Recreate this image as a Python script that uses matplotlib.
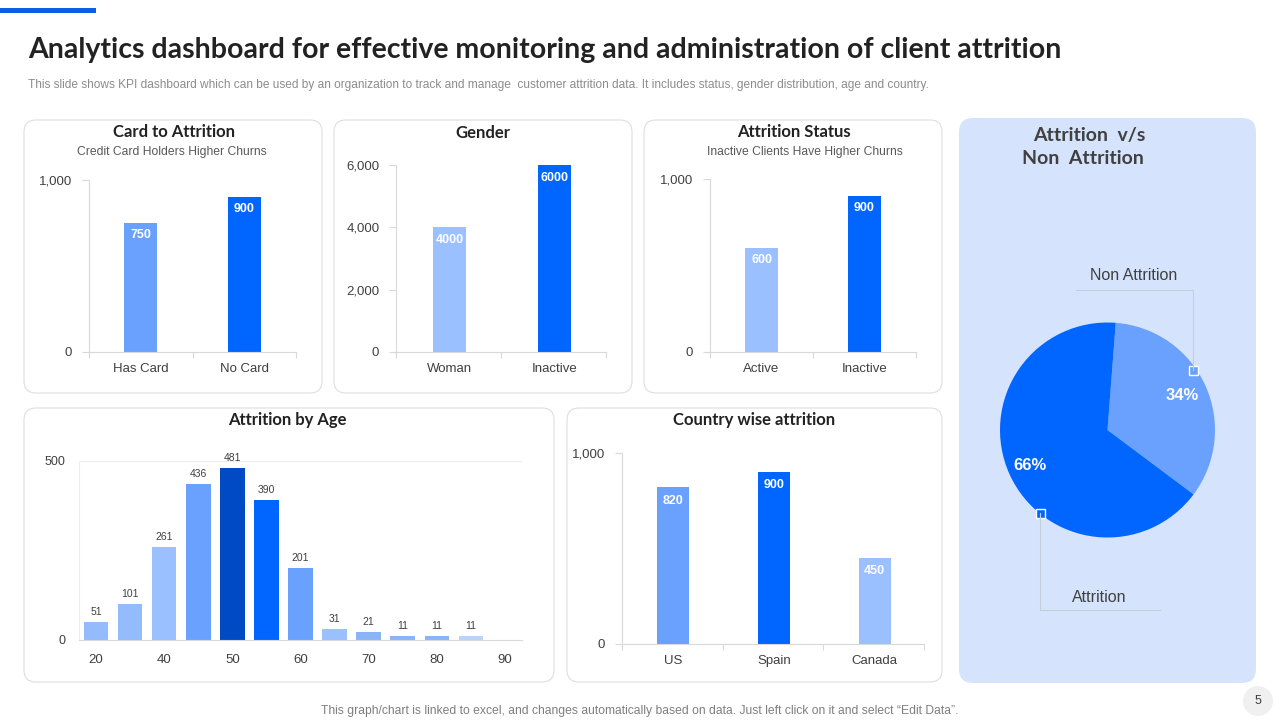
# Client attrition KPI dashboard slide
import matplotlib
matplotlib.use('Agg')
import matplotlib.pyplot as plt
from matplotlib.patches import FancyBboxPatch, Rectangle, Circle

plt.rcParams['font.family'] = ['Liberation Sans', 'DejaVu Sans']

W, H = 1280, 720

# Data
card_labels = ['Has Card', 'No Card']
card_values = [750, 900]
gender_labels = ['Woman', 'Inactive']
gender_values = [4000, 6000]
status_labels = ['Active', 'Inactive']
status_values = [600, 900]
age_ticks = ['20', '', '40', '', '50', '', '60', '', '70', '', '80', '', '90']
age_values = [51, 101, 261, 436, 481, 390, 201, 31, 21, 11, 11, 11, 0]
country_labels = ['US', 'Spain', 'Canada']
country_values = [820, 900, 450]
pie_labels = ['Non Attrition', 'Attrition']
pie_values = [34, 66]

# Colours
BLUE = '#0066FF'
MID = '#6AA1FF'
LIGHT = '#9BC0FF'
age_colors = ['#94BBFB', '#94BBFB', LIGHT, MID, '#004BC4', BLUE, MID, LIGHT,
              '#8AB4F8', '#8AB4F8', '#8AB4F8', '#BDD3F5', '#BDD3F5']
GREY = '#D9D9D9'
TEXT = '#404040'
HEAD = ['Lato', 'DejaVu Sans']

fig = plt.figure(figsize=(12.8, 7.2), dpi=100, facecolor='white')

# Full-slide layer in pixel coordinates
bg = fig.add_axes([0, 0, 1, 1])
bg.set_xlim(0, W)
bg.set_ylim(H, 0)
bg.axis('off')


def card(x0, y0, x1, y1, fc='white', ec='#DEDEDE', r=12):
    bg.add_patch(FancyBboxPatch((x0 + r, y0 + r), x1 - x0 - 2 * r, y1 - y0 - 2 * r,
                                boxstyle='round,pad=%d,rounding_size=%d' % (r, r),
                                fc=fc, ec=ec, lw=0.8))


def px_axes(x0, y_top, x1, y_bottom):
    ax = fig.add_axes([x0 / W, 1 - y_bottom / H, (x1 - x0) / W, (y_bottom - y_top) / H])
    ax.patch.set_alpha(0)
    for s in ['top', 'right']:
        ax.spines[s].set_visible(False)
    for s in ['left', 'bottom']:
        ax.spines[s].set_color(GREY)
        ax.spines[s].set_linewidth(0.8)
    return ax


def bar_panel(box, labels, values, colors, ymax, yticks, width_px, shift_px=0):
    x0, y_top, x1, y_bottom = box
    ax = px_axes(x0, y_top, x1, y_bottom)
    n = len(labels)
    step = (x1 - x0) / n
    ax.set_xlim(-0.5 - shift_px / step, n - 0.5 - shift_px / step)
    ax.set_ylim(0, ymax)
    ax.bar(range(n), values, width=width_px / step, color=colors)
    for i, v in enumerate(values):
        ax.text(i, v - ymax * 0.07, str(v), color='white', ha='center', va='center',
                fontsize=9, fontweight='bold')
    ax.set_yticks(yticks)
    ax.set_yticklabels(['{:,}'.format(t) for t in yticks], fontsize=9.5, color=TEXT)
    # x ticks sit on the category boundaries, labels in the middle
    ax.set_xticks([i - 0.5 - shift_px / step for i in range(n + 1)])
    ax.set_xticklabels([])
    ax.set_xticks(range(n), labels=labels, minor=True, fontsize=9.5, color=TEXT)
    ax.tick_params(axis='x', which='minor', length=0, pad=8)
    ax.tick_params(axis='x', which='major', length=4, color=GREY, width=0.8)
    ax.tick_params(axis='y', length=5, color=GREY, width=0.8, pad=7)
    return ax


# Top accent bar
bg.add_patch(Rectangle((0, 8), 96, 5, fc='#0B5FE0', ec='none'))

# Header
bg.text(28, 50, 'Analytics dashboard for effective monitoring and administration of client attrition',
        fontsize=20.5, fontweight='bold', color='#222222', ha='left', va='center', family=HEAD)
bg.text(28, 85, 'This slide shows KPI dashboard which can be used by an organization to track and manage  '
        'customer attrition data. It includes status, gender distribution, age and country.',
        fontsize=8.6, color='#8C8C8C', ha='left', va='center')

# Cards
card(24, 120, 322, 393)
card(334, 120, 632, 393)
card(644, 120, 942, 393)
card(24, 408, 554, 682)
card(567, 408, 942, 682)
card(959, 118, 1256, 683, fc='#D5E4FC', ec='none', r=14)

# Panel titles
for x, y, s in [(174, 132, 'Card to Attrition'), (483, 133, 'Gender'), (794, 132, 'Attrition Status'),
                (287, 420, 'Attrition by Age'), (754, 420, 'Country wise attrition')]:
    bg.text(x, y, s, fontsize=12, fontweight='bold', color='#222222', ha='center', va='center', family=HEAD)
bg.text(172, 152, 'Credit Card Holders Higher Churns', fontsize=8.7, color='#595959', ha='center', va='center')
bg.text(805, 152, 'Inactive Clients Have Higher Churns', fontsize=8.7, color='#595959', ha='center', va='center')

# Bar panels
bar_panel((89, 180, 296, 352), card_labels, card_values, [MID, BLUE], 1000, [0, 1000], 33)
bar_panel((396, 165, 606, 352), gender_labels, gender_values, [LIGHT, BLUE], 6000,
          [0, 2000, 4000, 6000], 33, shift_px=1)
bar_panel((710, 179, 916, 352), status_labels, status_values, [LIGHT, BLUE], 1000, [0, 1000], 33)
bar_panel((622, 453, 924, 644), country_labels, country_values, [MID, BLUE, LIGHT], 1000, [0, 1000], 32,
          shift_px=1)

# Age histogram
ax = px_axes(79, 461, 522, 640)
ax.set_xlim(-0.5, len(age_values) - 0.5)
ax.set_ylim(0, 500)
ax.bar(range(len(age_values)), age_values, width=0.72, color=age_colors)
for i, v in enumerate(age_values):
    if v > 0:
        ax.text(i, v + 14, str(v), fontsize=7.5, color=TEXT, ha='center', va='bottom')
ax.axhline(500, color='#EEEEEE', lw=0.8)
ax.spines['left'].set_color('#EEEEEE')
ax.set_yticks([0, 500])
ax.set_yticklabels(['0', '500'], fontsize=9, color=TEXT)
ax.set_xticks(range(len(age_values)))
ax.set_xticklabels(age_ticks, fontsize=9.5, color=TEXT)
ax.tick_params(axis='both', length=0)
ax.tick_params(axis='x', pad=10)
ax.tick_params(axis='y', pad=10)

# Pie panel
bg.text(1089, 136, 'Attrition  v/s', fontsize=14, fontweight='bold', color=TEXT, ha='center', va='center', family=HEAD)
bg.text(1083, 159, 'Non  Attrition', fontsize=14, fontweight='bold', color=TEXT, ha='center', va='center', family=HEAD)

pie_ax = fig.add_axes([(1107.5 - 107.5) / W, 1 - (430 + 107.5) / H, 215 / W, 215 / H])
pie_ax.pie(pie_values, colors=[MID, BLUE], startangle=85.6, counterclock=False, radius=1.0)
pie_ax.set_xlim(-1, 1)
pie_ax.set_ylim(-1, 1)

# Callouts go on a top layer so they sit over the pie
top = fig.add_axes([0, 0, 1, 1])
top.set_xlim(0, W)
top.set_ylim(H, 0)
top.axis('off')
top.patch.set_alpha(0)
top.plot([1076, 1193, 1193], [290, 290, 370], color='#C4CDDA', lw=0.8)
top.plot([1040, 1040, 1160], [513, 610, 610], color='#C4CDDA', lw=0.8)
top.add_patch(Rectangle((1189, 366), 9, 9, fc=MID, ec='white', lw=1))
top.add_patch(Rectangle((1036, 509), 9, 9, fc=BLUE, ec='white', lw=1))
top.text(1134, 276, pie_labels[0], fontsize=11.5, color=TEXT, ha='center', va='center')
top.text(1099, 597, pie_labels[1], fontsize=11.5, color=TEXT, ha='center', va='center')
top.text(1182, 395, '%d%%' % pie_values[0], fontsize=12, fontweight='bold', color='white', ha='center', va='center')
top.text(1030, 466, '%d%%' % pie_values[1], fontsize=12, fontweight='bold', color='white', ha='center', va='center')

# Footer
top.text(640, 711, 'This graph/chart is linked to excel, and changes automatically based on data. '
         'Just left click on it and select \u201cEdit Data\u201d.', fontsize=8.7, color='#7F7F7F',
         ha='center', va='center')
top.add_patch(Circle((1258, 701), 15, fc='#F0F0F0', ec='none'))
top.text(1258, 701, '5', fontsize=9, color=TEXT, ha='center', va='center')

fig.savefig('out.png', dpi=100)
